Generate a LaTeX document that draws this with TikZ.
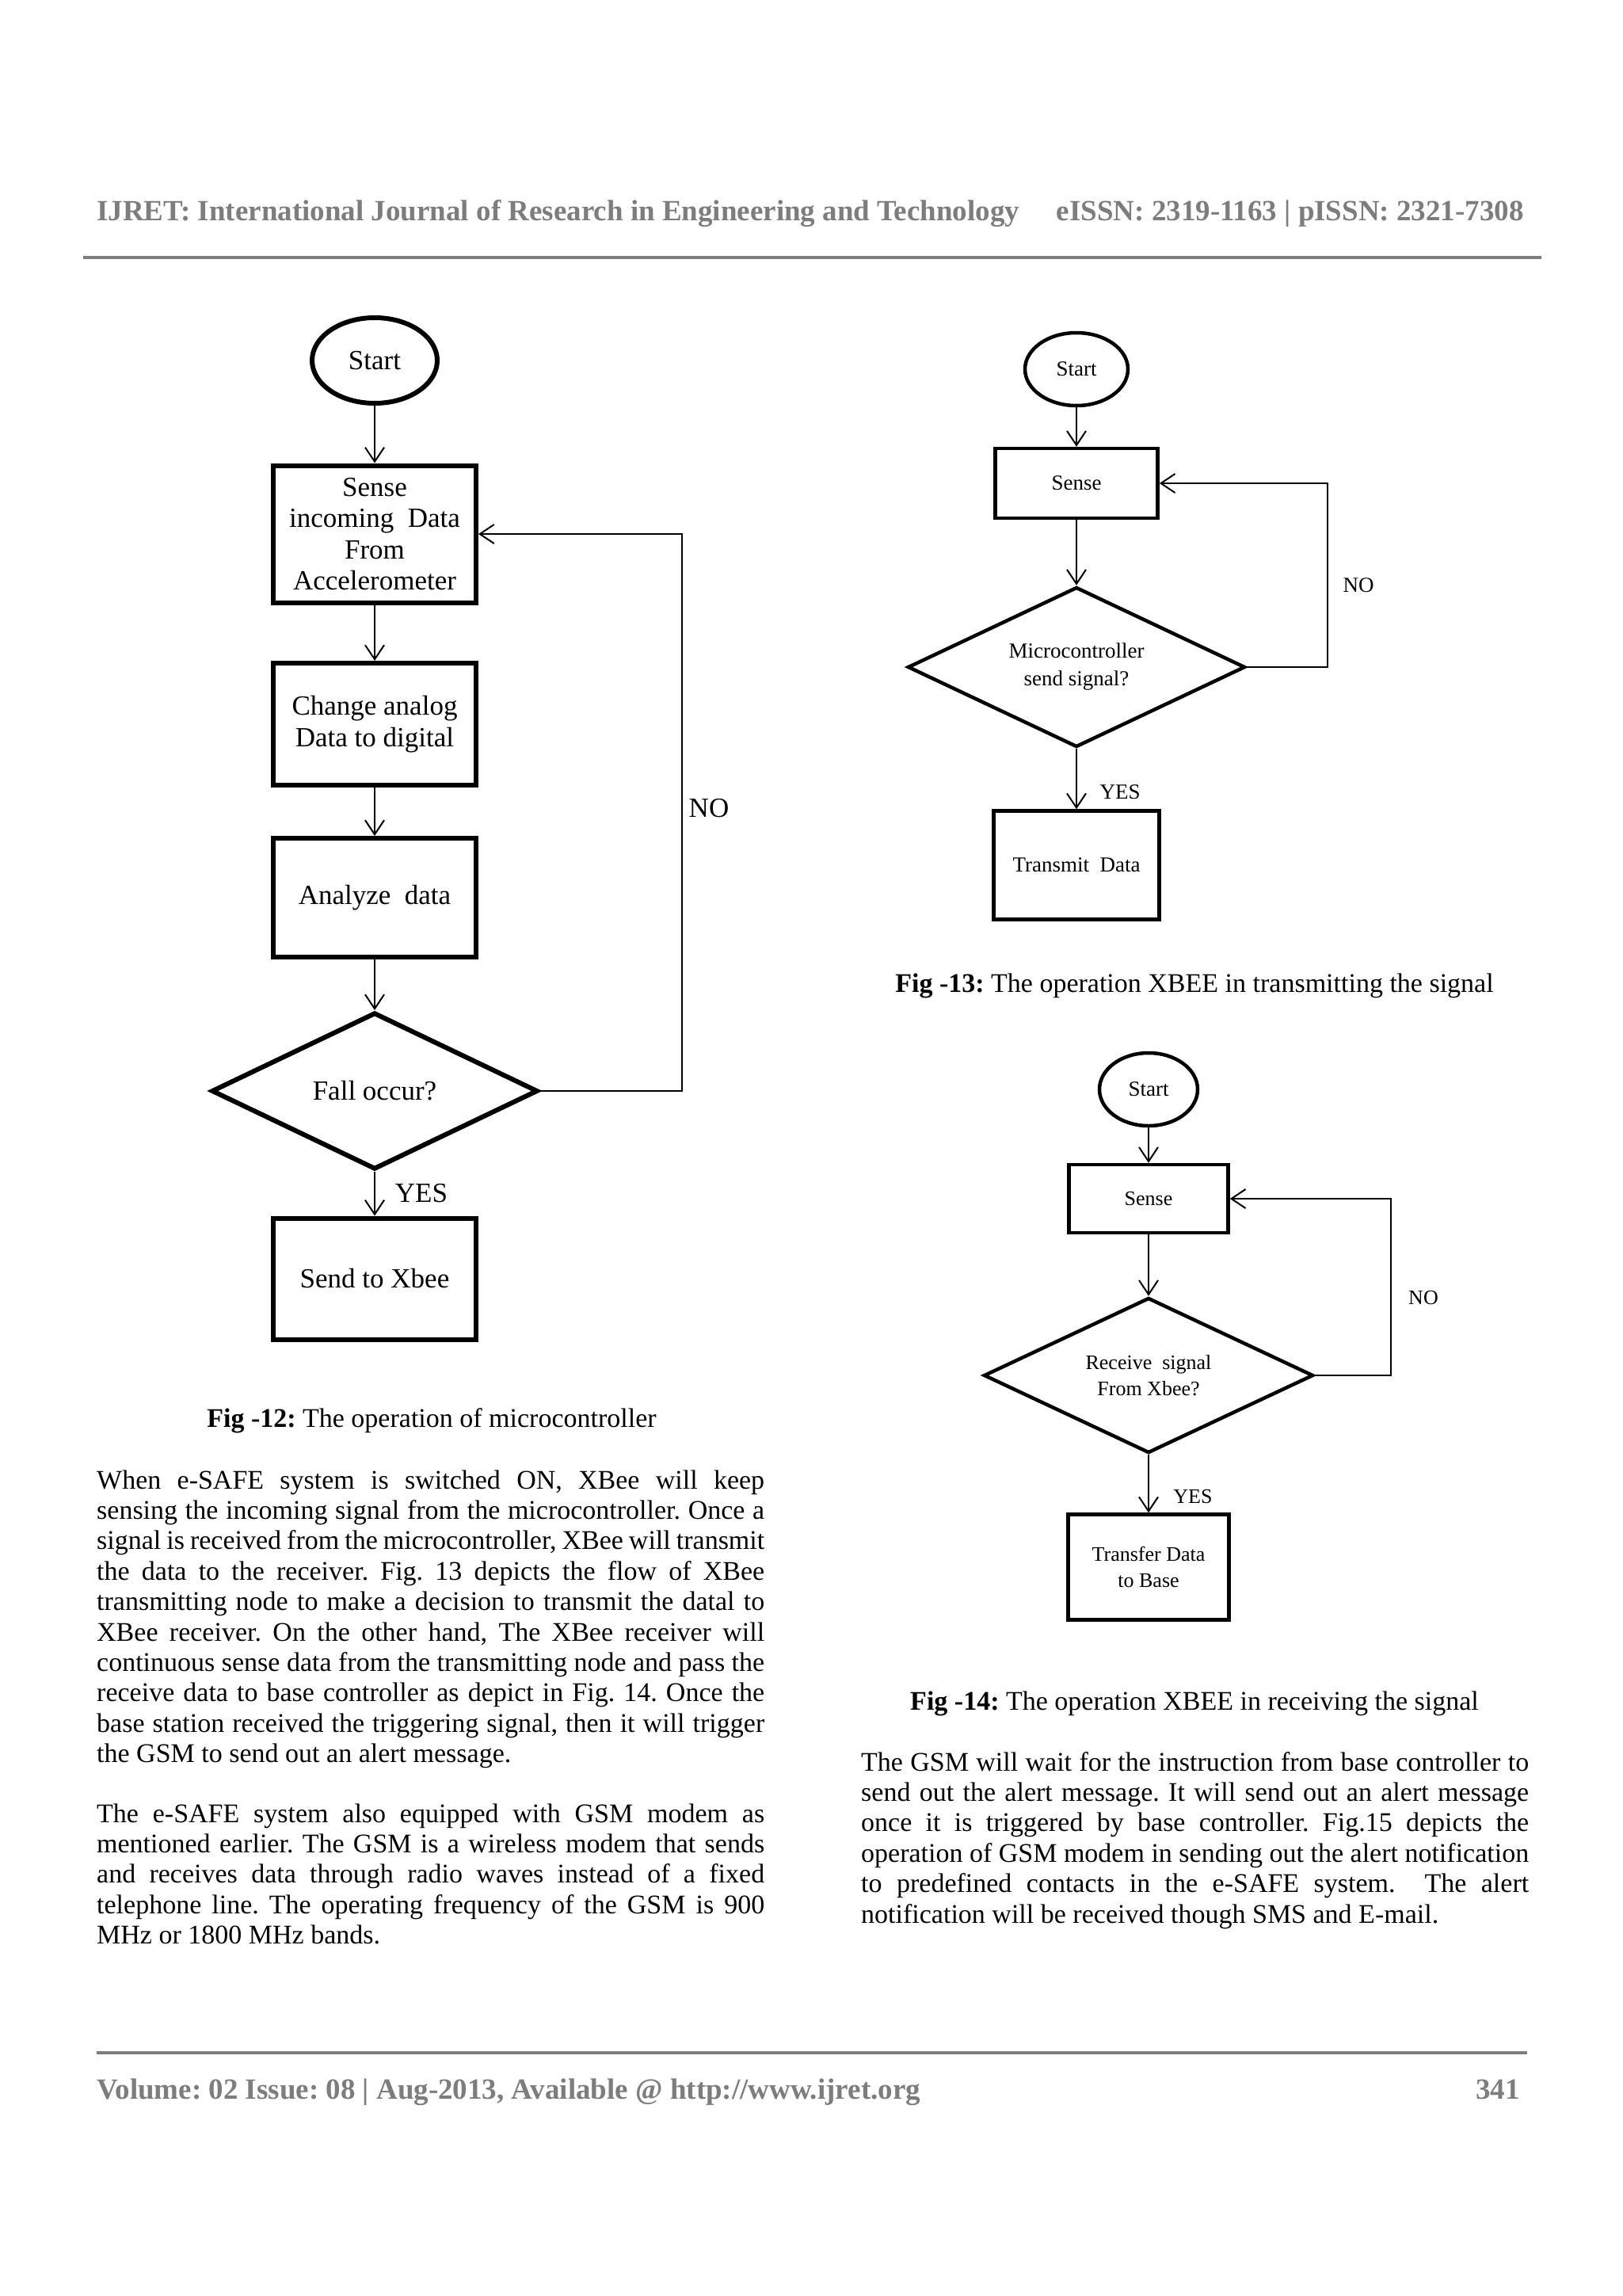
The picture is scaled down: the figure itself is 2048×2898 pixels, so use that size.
\documentclass[tikz,border=0pt]{standalone}
\usepackage{fontspec}
\setmainfont{Liberation Serif}
\usetikzlibrary{shapes.geometric,arrows.meta}
\definecolor{hdr}{RGB}{125,125,125}
\frenchspacing
\newcommand\bodyfont{\fontsize{34pt}{38.4pt}\selectfont}
\newcommand\hdrfont{\bfseries\fontsize{37pt}{42pt}\selectfont}
\newcommand\jline[3]{\node[anchor=base west,inner sep=0pt,font=\bodyfont] (#1) at (#2) {\makebox[843pt][s]{#3}};}
\newcommand\lline[3]{\node[anchor=base west,inner sep=0pt,font=\bodyfont] (#1) at (#2) {#3};}
\begin{document}
\begin{tikzpicture}[x=1pt,y=-1pt,
  fA/.style={font=\fontsize{35pt}{39.4pt}\selectfont},
  fB/.style={font=\fontsize{27pt}{35pt}\selectfont},
  fC/.style={font=\fontsize{26pt}{33pt}\selectfont},
  boxA/.style={draw, line width=6pt, minimum width=256pt, align=center, inner sep=0pt, fA},
  ellA/.style={draw, ellipse, line width=6pt, minimum width=158pt, minimum height=108pt, inner sep=0pt, fA},
  diaA/.style={draw, diamond, aspect=2.05, line width=6pt, minimum width=412pt, minimum height=198pt, inner sep=0pt, align=center, fA},
  boxB/.style={draw, line width=4.5pt, minimum width=205pt, align=center, inner sep=0pt, fB},
  ellB/.style={draw, ellipse, line width=4.5pt, minimum width=130pt, minimum height=92pt, inner sep=0pt, fB},
  diaB/.style={draw, diamond, aspect=2.1, line width=4.5pt, inner sep=0pt, align=center, fB},
  conn/.style={line width=2pt, -{Straight Barb[length=18pt,width=24pt,line width=2pt]}},
  lab/.style={inner sep=0pt}
]
\fill[white] (0,0) rectangle (2048,2898);
\useasboundingbox (0,0) rectangle (2048,2898);

% header / footer
\node[anchor=base west, inner sep=0pt, text=hdr, font=\hdrfont] (h1) at (122,278) {IJRET: International Journal of Research in Engineering and Technology};
\node[anchor=base east, inner sep=0pt, text=hdr, font=\hdrfont] (h2) at (1924,278) {eISSN: 2319-1163 | pISSN: 2321-7308};
\coordinate (hl1) at (105,325); \coordinate (hl2) at (1946,325);
\draw[hdr, line width=3.5pt] (hl1) -- (hl2);
\coordinate (fl1) at (122,2591); \coordinate (fl2) at (1928,2591);
\draw[hdr, line width=3.5pt] (fl1) -- (fl2);
\node[anchor=base west, inner sep=0pt, text=hdr, font=\hdrfont] (ft1) at (122,2649) {Volume: 02 Issue: 08 | Aug-2013, Available @ http://www.ijret.org};
\node[anchor=base east, inner sep=0pt, text=hdr, font=\hdrfont] (ft2) at (1919,2649) {341};

% Fig 12
\node[ellA] (st12) at (473,455) {Start};
\node[boxA, minimum height=173pt] (b121) at (473,674) {Sense\\incoming\ \ Data\\From\\Accelerometer};
\node[boxA, minimum height=154pt] (b122) at (473,914) {Change analog\\Data to digital};
\node[boxA, minimum height=150pt] (b123) at (473,1133) {Analyze\ \ data};
\node[diaA] (d12) at (473,1377) {Fall occur?};
\node[boxA, minimum height=153pt] (b124) at (473,1614) {Send to Xbee};
\coordinate (n12) at (861,674);
\draw[conn] (st12) -- (b121);
\draw[conn] (b121) -- (b122);
\draw[conn] (b122) -- (b123);
\draw[conn] (b123) -- (d12);
\draw[conn] (d12) -- (b124);
\draw[conn] (d12.east) -| (n12) -- (b121.east);
\node[lab, fA] (no12) at (895,1020) {NO};
\node[lab, fA] (yes12) at (532,1506) {YES};
\node[anchor=base, inner sep=0pt, font=\bodyfont] (c12) at (545,1801) {\textbf{Fig -12:} The operation of microcontroller};

% Fig 13
\node[ellB] (st13) at (1359,466) {Start};
\node[boxB, minimum height=88pt] (b131) at (1359,610) {Sense};
\node[diaB, minimum width=426pt, minimum height=202pt] (d13) at (1359,842) {Microcontroller\\send signal?};
\node[boxB, minimum width=209pt, minimum height=137pt] (b132) at (1359,1092) {Transmit\ \ Data};
\coordinate (n13) at (1676,610);
\draw[conn] (st13) -- (b131);
\draw[conn] (b131) -- (d13);
\draw[conn] (d13) -- (b132);
\draw[conn] (d13.east) -| (n13) -- (b131.east);
\node[lab, fB] (no13) at (1715,739) {NO};
\node[lab, fB] (yes13) at (1414,1000) {YES};
\node[anchor=base, inner sep=0pt, font=\bodyfont] (c13) at (1508,1252) {\textbf{Fig -13:} The operation XBEE in transmitting the signal};

% Fig 14
\node[ellB, minimum width=124pt] (st14) at (1450,1375) {Start};
\node[boxB, minimum width=201pt, minimum height=86pt, fC] (b141) at (1450,1513) {Sense};
\node[diaB, minimum width=416pt, minimum height=196pt, fC] (d14) at (1450,1736) {Receive\ \ signal\\From Xbee?};
\node[boxB, minimum width=203pt, minimum height=133pt, fC] (b142) at (1450,1978) {Transfer Data\\to Base};
\coordinate (n14) at (1756,1513);
\draw[conn] (st14) -- (b141);
\draw[conn] (b141) -- (d14);
\draw[conn] (d14) -- (b142);
\draw[conn] (d14.east) -| (n14) -- (b141.east);
\node[lab, fC] (no14) at (1797,1638) {NO};
\node[lab, fC] (yes14) at (1506,1889) {YES};
\node[anchor=base, inner sep=0pt, font=\bodyfont] (c14) at (1508,2158) {\textbf{Fig -14:} The operation XBEE in receiving the signal};

% body text, left column
\jline{l1}{122,1879}{When e-SAFE system is switched ON, XBee will keep}
\jline{l2}{122,1917.4}{sensing the incoming signal from the microcontroller. Once a}
\jline{l3}{122,1955.8}{signal is received from the microcontroller, XBee will transmit}
\jline{l4}{122,1994.2}{the data to the receiver. Fig. 13 depicts the flow of XBee}
\jline{l5}{122,2032.6}{transmitting node to make a decision to transmit the datal to}
\jline{l6}{122,2071}{XBee receiver. On the other hand, The XBee receiver will}
\jline{l7}{122,2109.4}{continuous sense data from the transmitting node and pass the}
\jline{l8}{122,2147.8}{receive data to base controller as depict in Fig. 14. Once the}
\jline{l9}{122,2186.2}{base station received the triggering signal, then it will trigger}
\lline{l10}{122,2224.6}{the GSM to send out an alert message.}
\jline{l11}{122,2300}{The e-SAFE system also equipped with GSM modem as}
\jline{l12}{122,2338.4}{mentioned earlier. The GSM is a wireless modem that sends}
\jline{l13}{122,2376.8}{and receives data through radio waves instead of a fixed}
\jline{l14}{122,2415.2}{telephone line. The operating frequency of the GSM is 900}
\lline{l15}{122,2453.6}{MHz or 1800 MHz bands.}
% right column
\jline{r1}{1087,2235}{The GSM will wait for the instruction from base controller to}
\jline{r2}{1087,2273.4}{send out the alert message. It will send out an alert message}
\jline{r3}{1087,2311.8}{once it is triggered by base controller. Fig.15 depicts the}
\jline{r4}{1087,2350.2}{operation of GSM modem in sending out the alert notification}
\jline{r5}{1087,2388.6}{to predefined contacts in the e-SAFE system.\ \ The alert}
\lline{r6}{1087,2427}{notification will be received though SMS and E-mail.}
\end{tikzpicture}
\end{document}
